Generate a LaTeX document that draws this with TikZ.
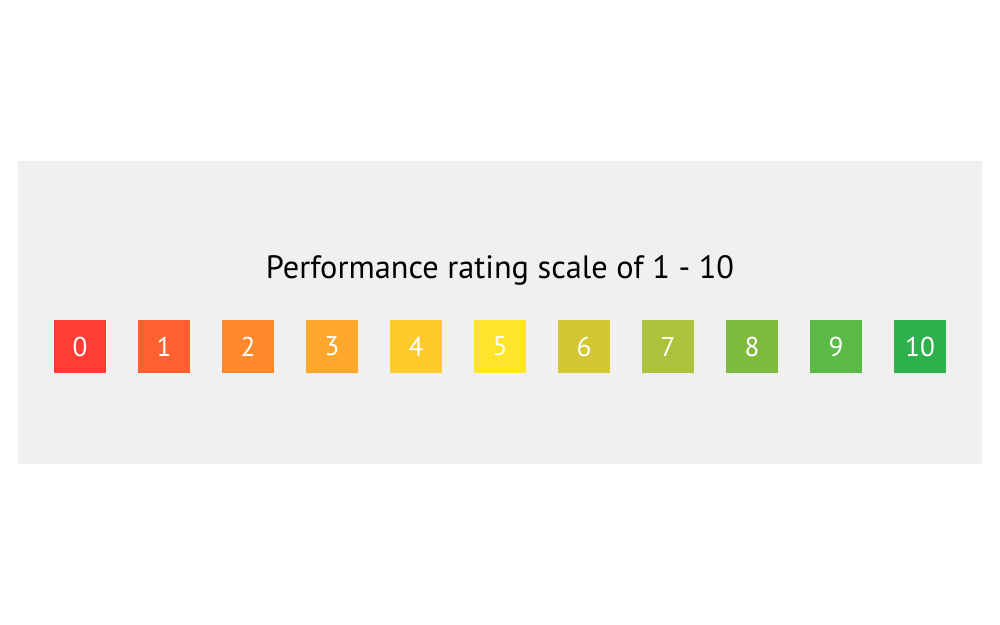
\documentclass[tikz,border=0pt]{standalone}
\usepackage{fontspec}
\setmainfont{PT Sans}
\definecolor{panel}{HTML}{F0F0F0}
\definecolor{r0}{HTML}{FF3D33}
\definecolor{r1}{HTML}{FF6130}
\definecolor{r2}{HTML}{FF892C}
\definecolor{r3}{HTML}{FFA72C}
\definecolor{r4}{HTML}{FFCA2C}
\definecolor{r5}{HTML}{FFE42A}
\definecolor{r6}{HTML}{D4C734}
\definecolor{r7}{HTML}{ABC23A}
\definecolor{r8}{HTML}{7EBA3D}
\definecolor{r9}{HTML}{5BB947}
\definecolor{r10}{HTML}{2EB14C}
\begin{document}
\begin{tikzpicture}[x=0.02cm,y=-0.02cm,
                    rate node/.style={rectangle,draw=none,inner sep=0pt,minimum size=1.05cm,
                                      text=white,font=\fontsize{15.5}{17}\selectfont}
                    ]
  \useasboundingbox[fill=white] (0,0) rectangle (1000,625);
  \fill[panel] (18,161) rectangle (982,464);
  \node (title) at (500,270.5) {\fontsize{18.4}{21}\selectfont Performance rating scale of 1 - 10};
  \foreach \i in {0,...,10}
    \node[rate node,fill=r\i] (r\i) at (80+84*\i,346.5) {\i};
\end{tikzpicture}
\end{document}
